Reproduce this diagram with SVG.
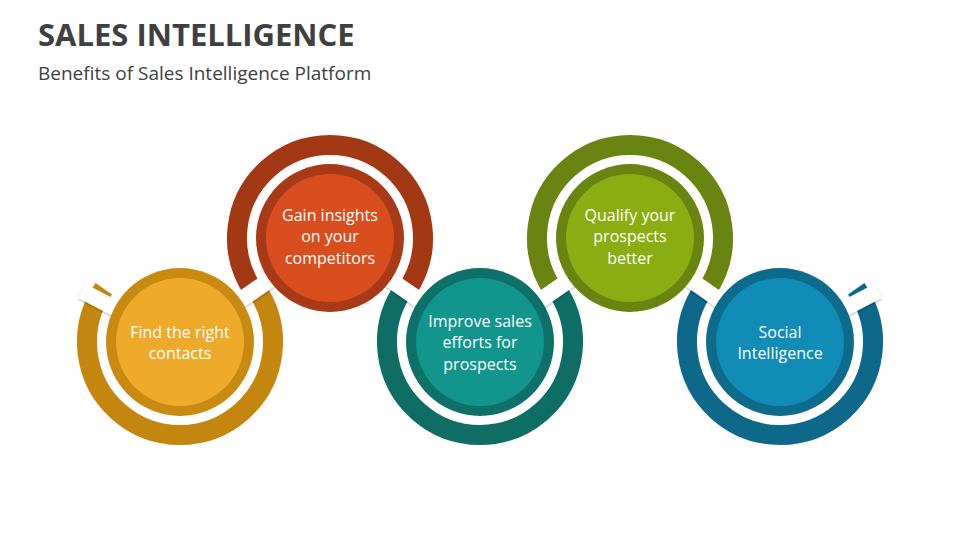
<svg xmlns="http://www.w3.org/2000/svg" width="960" height="540" viewBox="0 0 960 540">
<style>
.t{font-family:"Open Sans","Liberation Sans",sans-serif;fill:#fff;font-size:16px;text-anchor:middle}
.ring{fill:none;stroke-width:20}
.bar{stroke:#fff;stroke-width:16}
</style>
<defs><filter id="sh" x="-20%" y="-20%" width="140%" height="140%"><feDropShadow dx="0" dy="1" stdDeviation="1.2" flood-color="#000" flood-opacity="0.35"/></filter></defs>
<rect width="960" height="540" fill="#fff"/>
<text x="38" y="46" font-family="Open Sans, Liberation Sans, sans-serif" font-size="31" font-weight="bold" fill="#404040">SALES INTELLIGENCE</text>
<text x="38" y="80" font-family="Open Sans, Liberation Sans, sans-serif" font-size="19" fill="#404040">Benefits of Sales Intelligence Platform</text>
<g id="rings">
<path class="ring" stroke="#C4860F" d="M256.2,288.7 A93,93 0 1 1 103.8,288.7"/>
<path class="ring" stroke="#A33815" d="M253.8,291.3 A93,93 0 1 1 406.2,291.3"/>
<path class="ring" stroke="#0E6E66" d="M556.2,288.7 A93,93 0 1 1 403.8,288.7"/>
<path class="ring" stroke="#6A8412" d="M553.8,291.3 A93,93 0 1 1 706.2,291.3"/>
<path class="ring" stroke="#0D6889" d="M856.2,288.7 A93,93 0 1 1 703.8,288.7"/>
</g>
<g id="connectors" filter="url(#sh)">
<line class="bar" x1="180" y1="342" x2="330" y2="238"/>
<line class="bar" x1="330" y1="238" x2="480" y2="342"/>
<line class="bar" x1="480" y1="342" x2="630" y2="238"/>
<line class="bar" x1="630" y1="238" x2="780" y2="342"/>
<line class="bar" x1="180" y1="342" x2="82" y2="291"/>
<line class="bar" x1="780" y1="342" x2="878" y2="291"/>
</g>
<g id="n1"><circle cx="180" cy="342" r="74" fill="#C98A12"/><circle cx="180" cy="342" r="64" fill="#EEAA2A"/><text class="t" x="180" y="338">Find the right</text><text class="t" x="180" y="359">contacts</text></g>
<g id="n2"><circle cx="330" cy="238" r="74" fill="#A83A17"/><circle cx="330" cy="238" r="64" fill="#D94E1E"/><text class="t" x="330" y="221">Gain insights</text><text class="t" x="330" y="242">on your</text><text class="t" x="330" y="264">competitors</text></g>
<g id="n3"><circle cx="480" cy="342" r="74" fill="#0E7169"/><circle cx="480" cy="342" r="64" fill="#12958A"/><text class="t" x="480" y="327">Improve sales</text><text class="t" x="480" y="348">efforts for</text><text class="t" x="480" y="370">prospects</text></g>
<g id="n4"><circle cx="630" cy="238" r="74" fill="#6A8412"/><circle cx="630" cy="238" r="64" fill="#8AAE12"/><text class="t" x="630" y="221">Qualify your</text><text class="t" x="630" y="242">prospects</text><text class="t" x="630" y="264">better</text></g>
<g id="n5"><circle cx="780" cy="342" r="74" fill="#0D6B8C"/><circle cx="780" cy="342" r="64" fill="#118CB6"/><text class="t" x="780" y="338">Social</text><text class="t" x="780" y="359">Intelligence</text></g>
</svg>
